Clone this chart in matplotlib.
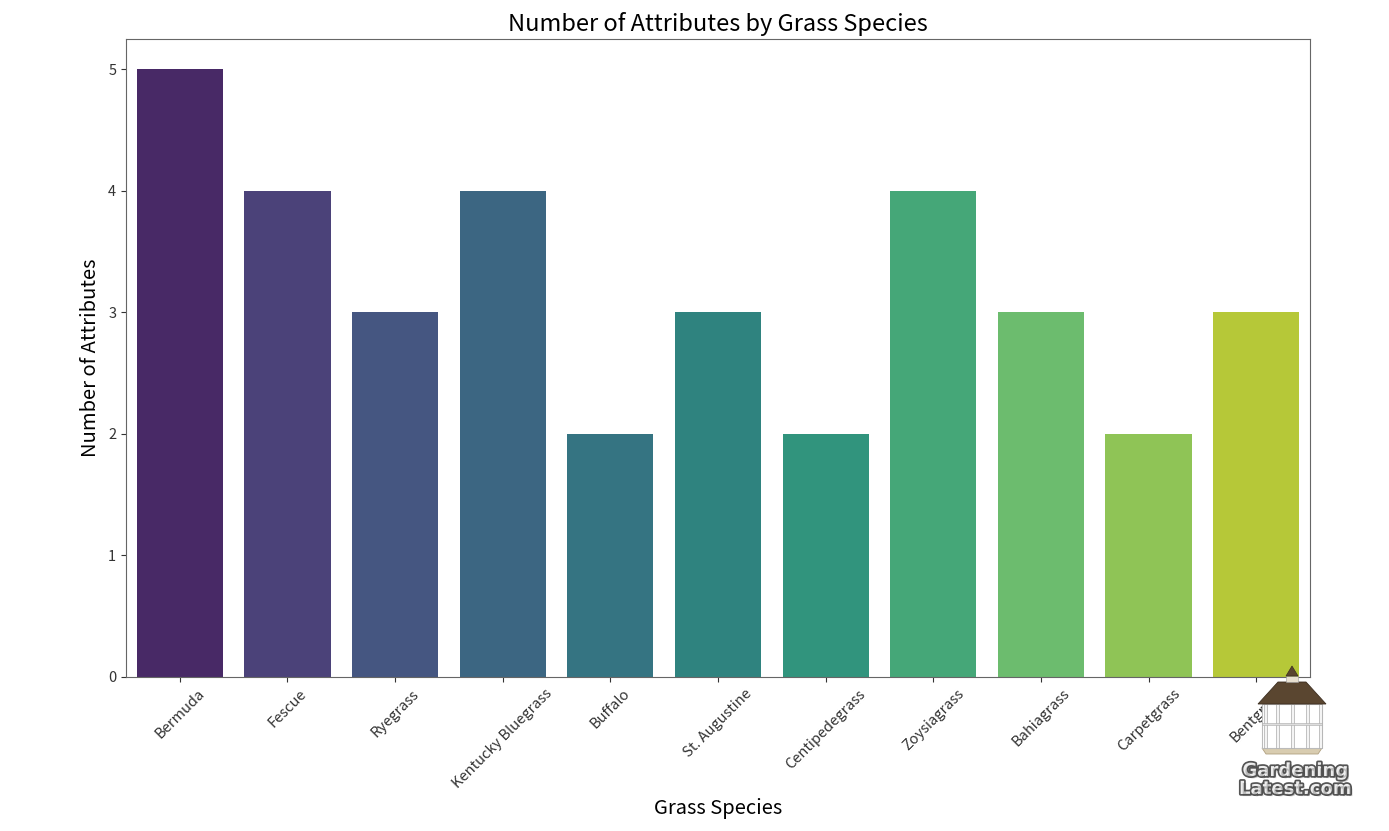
import matplotlib
matplotlib.use("Agg")
import matplotlib.pyplot as plt
import matplotlib.patheffects as pe
from matplotlib.patches import Polygon, Rectangle
import seaborn as sns
import pandas as pd

species = ["Bermuda", "Fescue", "Ryegrass", "Kentucky Bluegrass", "Buffalo",
           "St. Augustine", "Centipedegrass", "Zoysiagrass", "Bahiagrass",
           "Carpetgrass", "Bentgrass"]
attr_counts = [5, 4, 3, 4, 2, 3, 2, 4, 3, 2, 3]

plt.rcParams['font.family'] = ['Noto Sans CJK SC', 'DejaVu Sans']

df = pd.DataFrame({"Grass Species": species, "Number of Attributes": attr_counts})

W, H = 1389, 831
fig = plt.figure(figsize=(W / 100, H / 100), dpi=100)
ax = fig.add_axes([126 / W, 1 - 677 / H, (1310 - 126) / W, (677 - 39) / H])

sns.barplot(data=df, x="Grass Species", y="Number of Attributes", hue="Grass Species",
            palette="viridis", legend=False, ax=ax)

ax.set_title("Number of Attributes by Grass Species", fontsize=17, pad=6)
ax.set_xlabel("Grass Species", fontsize=14.5, labelpad=4.5)
ax.set_ylabel("Number of Attributes", fontsize=14.5, labelpad=5)
ax.tick_params(axis="x", labelrotation=45, labelsize=10.5, colors="#333333")
ax.tick_params(axis="y", labelsize=10.5, colors="#333333")
for lbl in ax.get_xticklabels():
    lbl.set_ha("center")
for sp in ax.spines.values():
    sp.set_color("#666666")
ax.set_ylim(0, 5.25)


# watermark: small gazebo sketch plus site name (pixel coords -> figure fraction)
def px(x, y):
    return (x / W, 1 - y / H)


kw = dict(transform=fig.transFigure, zorder=5)
fig.patches.append(Polygon([px(1262, 748), px(1322, 748), px(1318, 754), px(1266, 754)],
                           closed=True, facecolor="#d8ccb0", edgecolor="#b0a080", lw=0.6, **kw))
fig.patches.append(Rectangle(px(1262, 748), 60 / W, 44 / H, facecolor="white",
                             edgecolor="#bbbbbb", lw=0.8, **kw))
for xp in [1264, 1276, 1291, 1306, 1319]:
    fig.patches.append(Rectangle(px(xp, 748), 3 / W, 44 / H, facecolor="#f4f4f4",
                                 edgecolor="#aaaaaa", lw=0.5, **kw))
fig.patches.append(Rectangle(px(1262, 725), 60 / W, 2 / H, facecolor="#dddddd",
                             edgecolor="#aaaaaa", lw=0.4, **kw))
fig.patches.append(Polygon([px(1258, 704), px(1326, 704), px(1306, 682), px(1278, 682)],
                           closed=True, facecolor="#5a4630", edgecolor="#3c2e20", lw=0.6, **kw))
fig.patches.append(Rectangle(px(1286, 682), 12 / W, 6 / H, facecolor="#e8e0d0",
                             edgecolor="#999999", lw=0.4, **kw))
fig.patches.append(Polygon([px(1286, 676), px(1298, 676), px(1292, 666)],
                           closed=True, facecolor="#5a4630", edgecolor="#3c2e20", lw=0.5, **kw))

fig.text(1295 / W, 1 - 780 / H, "Gardening\nLatest.com", ha="center", va="center",
         fontsize=13, fontweight="bold", color="#eeeeee", linespacing=1.0,
         family="DejaVu Sans", zorder=6,
         path_effects=[pe.withStroke(linewidth=2.5, foreground="#555555"),
                       pe.SimplePatchShadow(offset=(1.5, -1.5))])

fig.savefig("out.png", dpi=100)
